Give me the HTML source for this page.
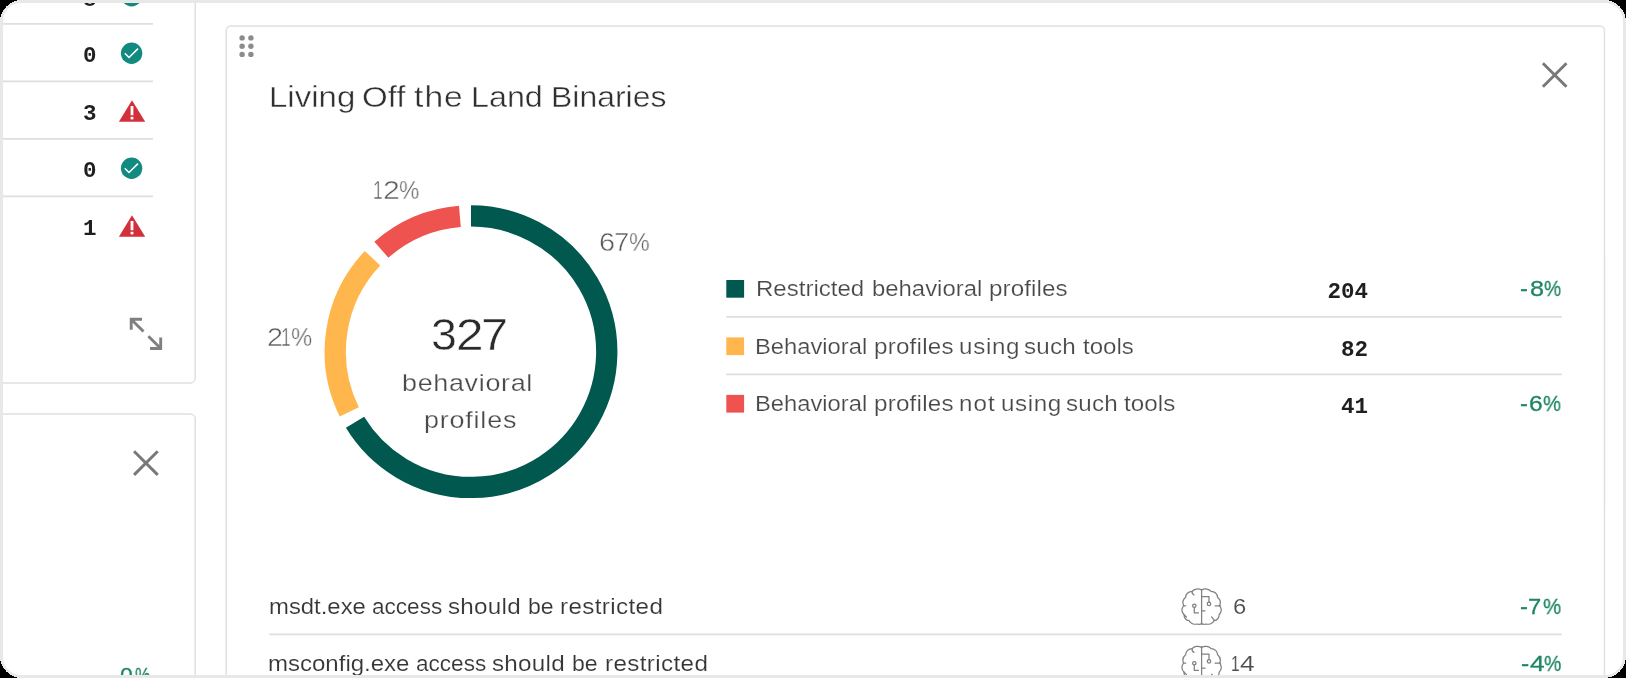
<!DOCTYPE html>
<html>
<head>
<meta charset="utf-8">
<title>Living Off the Land Binaries</title>
<style>
*{box-sizing:border-box;margin:0;padding:0}
html,body{width:1626px;height:678px;overflow:hidden;background:#e8e8e8;}
body{font-family:"Liberation Sans",sans-serif;position:relative}
#frame{position:absolute;left:3px;top:3px;width:1620px;height:672px;border-radius:18px;background:#fff;overflow:hidden}
#stage{position:absolute;left:-3px;top:-3px;width:1626px;height:678px}
.t{position:absolute;white-space:nowrap;line-height:1;transform-origin:0 0;will-change:transform}
.mono{font-family:"Liberation Mono",monospace;font-weight:bold;color:#1f1f1f;font-size:22.5px}
.lg{font-size:22px;color:#484848;-webkit-text-stroke:0.2px #fff}
.pc{font-size:22px;color:#1f8662;-webkit-text-stroke:0.3px #1f8662}
.row{font-size:22px;color:#353535;-webkit-text-stroke:0.15px #fff}
.lab{font-size:24px;color:#5c5c5c;-webkit-text-stroke:0.45px #fff}
.thin{-webkit-text-stroke:0.5px #fff}
.thin2{-webkit-text-stroke:0.4px #fff}
.thin3{-webkit-text-stroke:0.25px #fff}
svg{position:absolute;left:0;top:0;overflow:visible}
</style>
</head>
<body>
<div id="frame"><div id="stage">

<!-- left top card -->

<div class="t mono" id="n0" style="left:82.5px;top:-11px">8</div>
<div class="t mono" id="n1" style="left:82.5px;top:45px">0</div>
<div class="t mono" id="n2" style="left:82.5px;top:103px">3</div>
<div class="t mono" id="n3" style="left:82.5px;top:160px">0</div>
<div class="t mono" id="n4" style="left:82.5px;top:218px">1</div>

<!-- left bottom card -->

<!-- main card -->


<!-- donut labels -->


<!-- legend -->
<div class="t mono" id="m1" style="left:1268px;width:100px;text-align:right;top:281px">204</div>
<div class="t mono" id="m2" style="left:1268px;width:100px;text-align:right;top:338.5px">82</div>
<div class="t mono" id="m3" style="left:1268px;width:100px;text-align:right;top:396px">41</div>

<div class="t thin2" id="titlew0" style="left:268.54px;top:83.45px;font-size:29px;color:#303030;transform:scaleX(1.1389);">Living</div>
<div class="t thin2" id="titlew1" style="left:362.44px;top:83.45px;font-size:29px;color:#303030;transform:scaleX(1.1395);">Off</div>
<div class="t thin2" id="titlew2" style="left:414.10px;top:83.45px;font-size:29px;color:#303030;letter-spacing:0.888px;transform:scaleX(1.1600);">the</div>
<div class="t thin2" id="titlew3" style="left:470.79px;top:83.45px;font-size:29px;color:#303030;transform:scaleX(1.1131);">Land</div>
<div class="t thin2" id="titlew4" style="left:551.07px;top:83.45px;font-size:29px;color:#303030;transform:scaleX(1.1010);">Binaries</div>
<div class="t lab" id="l12w0" style="left:372.64px;top:177.84px;font-size:25px;transform:scaleX(0.7000);">1</div>
<div class="t lab" id="l12w1" style="left:382.50px;top:177.84px;font-size:25px;transform:scaleX(1.2083);">2</div>
<div class="t lab" id="l12w2" style="left:398.77px;top:177.84px;font-size:25px;transform:scaleX(0.9143);">%</div>
<div class="t lab" id="l67w0" style="left:599.42px;top:229.84px;font-size:25px;transform:scaleX(1.1583);">6</div>
<div class="t lab" id="l67w1" style="left:614.00px;top:229.84px;font-size:25px;transform:scaleX(1.1000);">7</div>
<div class="t lab" id="l67w2" style="left:628.61px;top:229.84px;font-size:25px;transform:scaleX(0.9238);">%</div>
<div class="t lab" id="l21w0" style="left:267.49px;top:324.84px;font-size:25px;transform:scaleX(1.1500);">2</div>
<div class="t lab" id="l21w1" style="left:281.34px;top:324.84px;font-size:25px;transform:scaleX(0.7000);">1</div>
<div class="t lab" id="l21w2" style="left:290.75px;top:324.84px;font-size:25px;transform:scaleX(0.9524);">%</div>
<div class="t thin" id="c327w0" style="left:431.30px;top:313.33px;font-size:44.5px;color:#2b2b2b;transform:scaleX(1.0476);">3</div>
<div class="t thin" id="c327w1" style="left:456.41px;top:313.33px;font-size:44.5px;color:#2b2b2b;transform:scaleX(1.1143);">2</div>
<div class="t thin" id="c327w2" style="left:480.57px;top:313.33px;font-size:44.5px;color:#2b2b2b;transform:scaleX(1.0952);">7</div>
<div class="t thin3" id="cbeh" style="left:401.95px;top:371.26px;font-size:24.5px;color:#4a4a4a;letter-spacing:0.606px;transform:scaleX(1.1000);">behavioral</div>
<div class="t thin3" id="cpro" style="left:424.19px;top:408.26px;font-size:24.5px;color:#4a4a4a;letter-spacing:0.714px;transform:scaleX(1.1000);">profiles</div>
<div class="t lg" id="g1w0" style="left:756.17px;top:278.38px;font-size:22px;transform:scaleX(1.0918);">Restricted</div>
<div class="t lg" id="g1w1" style="left:871.60px;top:278.38px;font-size:22px;transform:scaleX(1.0860);">behavioral</div>
<div class="t lg" id="g1w2" style="left:989.10px;top:278.38px;font-size:22px;letter-spacing:0.078px;transform:scaleX(1.1000);">profiles</div>
<div class="t lg" id="g2w0" style="left:755.35px;top:336.38px;font-size:22px;transform:scaleX(1.0794);">Behavioral</div>
<div class="t lg" id="g2w1" style="left:873.60px;top:336.38px;font-size:22px;letter-spacing:0.195px;transform:scaleX(1.1000);">profiles</div>
<div class="t lg" id="g2w2" style="left:958.82px;top:336.38px;font-size:22px;letter-spacing:0.614px;transform:scaleX(1.1000);">using</div>
<div class="t lg" id="g2w3" style="left:1024.02px;top:336.38px;font-size:22px;letter-spacing:0.182px;transform:scaleX(1.1000);">such</div>
<div class="t lg" id="g2w4" style="left:1082.84px;top:336.38px;font-size:22px;transform:scaleX(1.0935);">tools</div>
<div class="t lg" id="g3w0" style="left:755.35px;top:393.38px;font-size:22px;transform:scaleX(1.0794);">Behavioral</div>
<div class="t lg" id="g3w1" style="left:873.60px;top:393.38px;font-size:22px;letter-spacing:0.195px;transform:scaleX(1.1000);">profiles</div>
<div class="t lg" id="g3w2" style="left:959.07px;top:393.38px;font-size:22px;letter-spacing:1.000px;transform:scaleX(1.1000);">not</div>
<div class="t lg" id="g3w3" style="left:1000.67px;top:393.38px;font-size:22px;letter-spacing:0.545px;transform:scaleX(1.1000);">using</div>
<div class="t lg" id="g3w4" style="left:1065.71px;top:393.38px;font-size:22px;letter-spacing:0.182px;transform:scaleX(1.1000);">such</div>
<div class="t lg" id="g3w5" style="left:1124.28px;top:393.38px;font-size:22px;letter-spacing:0.045px;transform:scaleX(1.1000);">tools</div>
<div class="t pc" id="q1w0" style="left:1520.09px;top:278.38px;font-size:22px;transform:scaleX(1.0833);">-</div>
<div class="t pc" id="q1w1" style="left:1529.53px;top:278.38px;font-size:22px;transform:scaleX(1.1455);">8</div>
<div class="t pc" id="q1w2" style="left:1544.09px;top:278.38px;font-size:22px;transform:scaleX(0.8737);">%</div>
<div class="t pc" id="q3w0" style="left:1520.09px;top:393.38px;font-size:22px;transform:scaleX(1.0833);">-</div>
<div class="t pc" id="q3w1" style="left:1529.41px;top:393.38px;font-size:22px;transform:scaleX(1.1182);">6</div>
<div class="t pc" id="q3w2" style="left:1542.99px;top:393.38px;font-size:22px;transform:scaleX(0.9158);">%</div>
<div class="t row" id="r1w0" style="left:268.62px;top:596.38px;font-size:22px;transform:scaleX(1.0852);">msdt.exe</div>
<div class="t row" id="r1w1" style="left:371.92px;top:596.38px;font-size:22px;transform:scaleX(1.0254);">access</div>
<div class="t row" id="r1w2" style="left:448.08px;top:596.38px;font-size:22px;letter-spacing:0.236px;transform:scaleX(1.1000);">should</div>
<div class="t row" id="r1w3" style="left:528.31px;top:596.38px;font-size:22px;transform:scaleX(1.0478);">be</div>
<div class="t row" id="r1w4" style="left:560.43px;top:596.38px;font-size:22px;letter-spacing:0.343px;transform:scaleX(1.1000);">restricted</div>
<div class="t row" id="r2w0" style="left:268.21px;top:653.38px;font-size:22px;transform:scaleX(1.0914);">msconfig.exe</div>
<div class="t row" id="r2w1" style="left:415.82px;top:653.38px;font-size:22px;transform:scaleX(1.0254);">access</div>
<div class="t row" id="r2w2" style="left:492.01px;top:653.38px;font-size:22px;letter-spacing:0.236px;transform:scaleX(1.1000);">should</div>
<div class="t row" id="r2w3" style="left:572.22px;top:653.38px;font-size:22px;transform:scaleX(1.0478);">be</div>
<div class="t row" id="r2w4" style="left:605.26px;top:653.38px;font-size:22px;letter-spacing:0.343px;transform:scaleX(1.1000);">restricted</div>
<div class="t row" id="b1" style="left:1232.98px;top:596.38px;font-size:22px;color:#4d4d4d;transform:scaleX(1.0818);">6</div>
<div class="t row" id="b2w0" style="left:1231.48px;top:653.38px;font-size:22px;color:#4d4d4d;transform:scaleX(0.7000);">1</div>
<div class="t row" id="b2w1" style="left:1240.20px;top:653.38px;font-size:22px;color:#4d4d4d;transform:scaleX(1.2000);">4</div>
<div class="t pc" id="q4w0" style="left:1520.09px;top:596.38px;font-size:22px;transform:scaleX(1.0833);">-</div>
<div class="t pc" id="q4w1" style="left:1527.74px;top:596.38px;font-size:22px;transform:scaleX(1.0800);">7</div>
<div class="t pc" id="q4w2" style="left:1542.63px;top:596.38px;font-size:22px;transform:scaleX(0.9263);">%</div>
<div class="t pc" id="q5w0" style="left:1520.86px;top:653.38px;font-size:22px;transform:scaleX(1.1167);">-</div>
<div class="t pc" id="q5w1" style="left:1529.55px;top:653.38px;font-size:22px;transform:scaleX(1.1917);">4</div>
<div class="t pc" id="q5w2" style="left:1544.19px;top:653.38px;font-size:22px;transform:scaleX(0.8842);">%</div>
<div class="t pc" id="p0w0" style="left:119.94px;top:665.38px;font-size:22px;transform:scaleX(1.0545);">0</div>
<div class="t pc" id="p0w1" style="left:134.85px;top:665.38px;font-size:22px;transform:scaleX(0.7737);">%</div>
<!-- bottom rows -->

<svg width="1626" height="678" viewBox="0 0 1626 678">
  <!-- cards -->
  <g fill="none" stroke="#e0e0e0" stroke-width="1.5">
    <rect x="-20" y="-20" width="215.2" height="403" rx="4.8"/>
    <rect x="-20" y="414" width="215.2" height="300" rx="4.8"/>
    <rect x="226.2" y="25.9" width="1378.3" height="700" rx="4.5"/>
  </g>
  <!-- dividers -->
  <g stroke="#dedede" stroke-width="1.7">
    <path d="M0 23.9 H153 M0 81.4 H153 M0 138.9 H153 M0 196.4 H153"/>
    <path d="M726.3 316.85 H1561.8 M726.3 374.35 H1561.8"/>
    <path d="M269.3 634.4 H1561.8"/>
  </g>


  <!-- legend squares -->
  <rect x="726.3" y="280" width="17.8" height="17.7" fill="#01584f"/>
  <rect x="726.3" y="337.4" width="17.8" height="17.7" fill="#ffb74d"/>
  <rect x="726.3" y="394.9" width="17.8" height="17.7" fill="#ef5350"/>
  <!-- donut -->
  <path d="M471.00 215.95 A135.75 135.75 0 1 1 355.01 422.22" stroke="#01584f" stroke-width="21.3" fill="none"/>
  <path d="M349.30 411.85 A135.75 135.75 0 0 1 372.53 258.26" stroke="#ffb74d" stroke-width="21.3" fill="none"/>
  <path d="M381.40 249.72 A135.75 135.75 0 0 1 459.88 216.41" stroke="#ef5350" stroke-width="21.3" fill="none"/>

  <!-- drag handle -->
  <g fill="#8c8c8c">
    <circle cx="242.1" cy="37.9" r="2.7"/><circle cx="250.9" cy="37.9" r="2.7"/>
    <circle cx="242.1" cy="46.25" r="2.7"/><circle cx="250.9" cy="46.25" r="2.7"/>
    <circle cx="242.1" cy="54.4" r="2.7"/><circle cx="250.9" cy="54.4" r="2.7"/>
  </g>

  <!-- close icons -->
  <g stroke="#787878" stroke-width="2.9" fill="none">
    <path d="M1542.9 63.2 L1566.5 86.8 M1566.5 63.2 L1542.9 86.8"/>
    <path d="M134.05 451.2 L157.75 474.9 M157.75 451.2 L134.05 474.9"/>
  </g>

  <!-- expand icon -->
  <g stroke="#808080" stroke-width="2.9" fill="none">
    <path d="M131.2 329.8 V319.3 H142 M131.2 319.3 L143.5 331.5"/>
    <path d="M160.7 337.6 V348.5 H150 M160.7 348.5 L148.4 336.2"/>
    <path d="M130 318 h6.5 l-6.5 6.5z M161.9 349.8 h-6.5 l6.5 -6.5z" fill="#808080" stroke="none"/>
  </g>

  <!-- check icons -->
  <g id="chk">
    <circle cx="131.6" cy="-4.2" r="10.7" fill="#118a80"/>
    <circle cx="131.6" cy="53.3" r="10.7" fill="#118a80"/>
    <path d="M124.8 53.2 L129 57.5 L138 48.6" stroke="#fff" stroke-width="1.55" fill="none"/>
    <circle cx="131.6" cy="168.3" r="10.7" fill="#118a80"/>
    <path d="M124.8 168.2 L129 172.5 L138 163.6" stroke="#fff" stroke-width="1.55" fill="none"/>
  </g>

  <!-- warning icons -->
  <g id="warn">
    <path d="M132 100.2 L145.2 121.7 H118.9 Z" fill="#d3303b"/>
    <path d="M132 106 V115.2" stroke="#fff" stroke-width="2.8"/>
    <rect x="130.6" y="116.8" width="2.8" height="2.6" fill="#fff"/>
    <path d="M132 215.2 L145.2 236.7 H118.9 Z" fill="#d3303b"/>
    <path d="M132 221 V230.2" stroke="#fff" stroke-width="2.8"/>
    <rect x="130.6" y="231.8" width="2.8" height="2.6" fill="#fff"/>
  </g>

  <!-- brain icons -->
  <g transform="translate(1201.6 606.8)" stroke="#808080" stroke-width="1.25" fill="none" stroke-linecap="round" stroke-linejoin="round">
      <path d="M0 -17.5 V17.5"/>
      <path d="M0 -16.8 C-3 -18.5 -7.5 -18 -9.5 -15.5 C-13 -15.5 -15.8 -13 -16 -9.5 C-18.5 -7.5 -19.3 -4 -18 -1 C-20.3 1.5 -20.3 5.5 -17.5 8 C-17.8 11 -15.5 13.5 -12.5 13.8 C-11 16.5 -7.5 18 -4.5 17.2 C-3 17.8 -1 17.5 0 16.8"/>
      <path d="M0 -16.8 C3 -18.5 7.5 -18 9.5 -15.5 C13 -15.5 15.8 -13 16 -9.5 C18.5 -7.5 19.3 -4 18 -1 C20.3 1.5 20.3 5.5 17.5 8 C17.8 11 15.5 13.5 12.5 13.8 C11 16.5 7.5 18 4.5 17.2 C3 17.8 1 17.5 0 16.8"/>
      <circle cx="-7.3" cy="-1" r="1.7"/>
      <path d="M-7.3 0.7 V6.2 H-3.2"/>
      <path d="M0 -10.2 H7.4 V-4.6"/>
      <circle cx="7.4" cy="-2.9" r="1.7"/>
      <path d="M13.5 -1 H19"/>
      <path d="M0 4 H3.4"/>
      <path d="M10 10 L12.8 13.6"/>
      <path d="M-9.5 -15.5 C-9.7 -13.8 -9 -12.5 -7.6 -11.8"/>
      <path d="M-18 -1 H-16"/>
      <path d="M-17.5 8 L-15.2 10.2"/>
    </g>
  <g transform="translate(1201.6 664.2)" stroke="#808080" stroke-width="1.25" fill="none" stroke-linecap="round" stroke-linejoin="round">
      <path d="M0 -17.5 V17.5"/>
      <path d="M0 -16.8 C-3 -18.5 -7.5 -18 -9.5 -15.5 C-13 -15.5 -15.8 -13 -16 -9.5 C-18.5 -7.5 -19.3 -4 -18 -1 C-20.3 1.5 -20.3 5.5 -17.5 8 C-17.8 11 -15.5 13.5 -12.5 13.8 C-11 16.5 -7.5 18 -4.5 17.2 C-3 17.8 -1 17.5 0 16.8"/>
      <path d="M0 -16.8 C3 -18.5 7.5 -18 9.5 -15.5 C13 -15.5 15.8 -13 16 -9.5 C18.5 -7.5 19.3 -4 18 -1 C20.3 1.5 20.3 5.5 17.5 8 C17.8 11 15.5 13.5 12.5 13.8 C11 16.5 7.5 18 4.5 17.2 C3 17.8 1 17.5 0 16.8"/>
      <circle cx="-7.3" cy="-1" r="1.7"/>
      <path d="M-7.3 0.7 V6.2 H-3.2"/>
      <path d="M0 -10.2 H7.4 V-4.6"/>
      <circle cx="7.4" cy="-2.9" r="1.7"/>
      <path d="M13.5 -1 H19"/>
      <path d="M0 4 H3.4"/>
      <path d="M10 10 L12.8 13.6"/>
      <path d="M-9.5 -15.5 C-9.7 -13.8 -9 -12.5 -7.6 -11.8"/>
      <path d="M-18 -1 H-16"/>
      <path d="M-17.5 8 L-15.2 10.2"/>
    </g>


</svg>

</div></div>
<svg width="1626" height="678" viewBox="0 0 1626 678">
  <!-- outer black corners (hard-edged mask) -->
  <g fill="#000" shape-rendering="crispEdges">
    <path d="M0 0 H22 A22 22 0 0 0 0 22 Z"/>
    <path d="M1626 0 V22 A22 22 0 0 0 1604 0 Z"/>
    <path d="M0 678 V656 A22 22 0 0 0 22 678 Z"/>
    <path d="M1626 678 H1604 A22 22 0 0 0 1626 656 Z"/>
  </g>
</svg>
</body>
</html>
